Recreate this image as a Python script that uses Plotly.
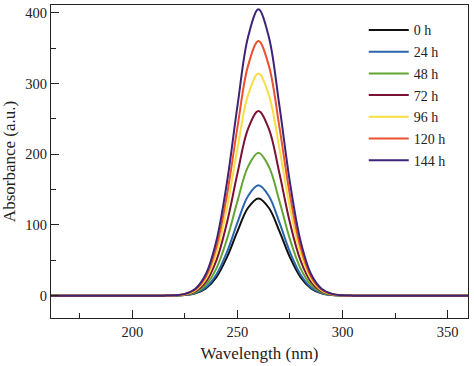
import plotly.graph_objects as go

wavelength = [160, 180, 200, 210, 215, 220, 225, 230, 235, 240, 245, 250, 255, 260,
              265, 270, 275, 280, 285, 290, 295, 300, 305, 310, 320, 340, 360]

a_0h = [0, 0, 0, 0, 0, 0.2, 0.9, 3.3, 10.4, 26.3, 54.3, 91.0, 124.0, 137.5,
        124.0, 91.0, 54.3, 26.3, 10.4, 3.3, 0.9, 0.2, 0, 0, 0, 0, 0]
a_24h = [0, 0, 0, 0, 0, 0.2, 1.0, 3.8, 11.8, 29.9, 61.6, 103.2, 140.7, 156.0,
         140.7, 103.2, 61.6, 29.9, 11.8, 3.8, 1.0, 0.2, 0, 0, 0, 0, 0]
a_48h = [0, 0, 0, 0, 0, 0.3, 1.3, 4.9, 15.3, 38.7, 79.7, 133.6, 182.2, 202.0,
         182.2, 133.6, 79.7, 38.7, 15.3, 4.9, 1.3, 0.3, 0, 0, 0, 0, 0]
a_72h = [0, 0, 0, 0, 0.1, 0.4, 1.7, 6.3, 19.7, 50.0, 103.0, 172.7, 235.4, 261.0,
         235.4, 172.7, 103.0, 50.0, 19.7, 6.3, 1.7, 0.4, 0.1, 0, 0, 0, 0]
a_96h = [0, 0, 0, 0, 0.1, 0.4, 2.0, 7.6, 23.7, 60.1, 123.9, 207.7, 283.2, 314.0,
         283.2, 207.7, 123.9, 60.1, 23.7, 7.6, 2.0, 0.4, 0.1, 0, 0, 0, 0]
a_120h = [0, 0, 0, 0, 0.1, 0.5, 2.3, 8.7, 27.2, 68.9, 142.1, 238.1, 324.6, 360.0,
          324.6, 238.1, 142.1, 68.9, 27.2, 8.7, 2.3, 0.5, 0.1, 0, 0, 0, 0]
a_144h = [0, 0, 0, 0, 0.1, 0.5, 2.6, 9.8, 30.6, 77.6, 159.8, 267.9, 365.2, 405.0,
          365.2, 267.9, 159.8, 77.6, 30.6, 9.8, 2.6, 0.5, 0.1, 0, 0, 0, 0]

series_names = ["0 h", "24 h", "48 h", "72 h", "96 h", "120 h", "144 h"]
series_values = [a_0h, a_24h, a_48h, a_72h, a_96h, a_120h, a_144h]
series_colors = ["#111111", "#2a66ae", "#63a534", "#7a1236", "#f7de45", "#ea512c", "#3d2476"]

x_ticks = [200, 250, 300, 350]
y_ticks = [0, 100, 200, 300, 400]

FONT = "Liberation Serif"

fig = go.Figure()
for i, (name, vals, col) in enumerate(zip(series_names, series_values, series_colors)):
    fig.add_trace(go.Scatter(
        x=wavelength, y=vals, name=name, mode="lines",
        line=dict(color=col, width=2, shape="spline", smoothing=1.0),
        legendgroup=f"g{i}",
    ))

axis_common = dict(
    showline=True, linecolor="#222222", linewidth=1.3, mirror=True,
    ticks="inside", ticklen=8, tickwidth=1.3, tickcolor="#222222",
    showgrid=False, zeroline=False,
    tickfont=dict(family=FONT, size=14.5, color="#222222"),
    title_font=dict(family=FONT, size=17, color="#222222"),
)

fig.update_layout(
    width=474, height=366,
    margin=dict(l=51, r=6, t=5, b=48),
    paper_bgcolor="white", plot_bgcolor="white",
    showlegend=True,
    legend=dict(
        x=0.75, y=0.97, xanchor="left", yanchor="top",
        bgcolor="rgba(0,0,0,0)", borderwidth=0,
        font=dict(family=FONT, size=14, color="#222222"),
        itemwidth=40, tracegroupgap=0.5,
    ),
    xaxis=dict(
        range=[161.3, 359.7], tickvals=x_ticks,
        minor=dict(ticks="inside", ticklen=5, tickwidth=1.3, tickcolor="#222222", dtick=25),
        title=dict(text="Wavelength (nm)", standoff=8),
        **axis_common,
    ),
    yaxis=dict(
        range=[-31.5, 411], tickvals=y_ticks,
        minor=dict(ticks="inside", ticklen=5, tickwidth=1.3, tickcolor="#222222", dtick=50),
        title=dict(text="Absorbance (a.u.)", standoff=6),
        **axis_common,
    ),
)

fig.write_html(
    "out.html",
    config={"displayModeBar": False},
    post_script="document.body.style.margin='0';document.body.style.padding='0';",
)
